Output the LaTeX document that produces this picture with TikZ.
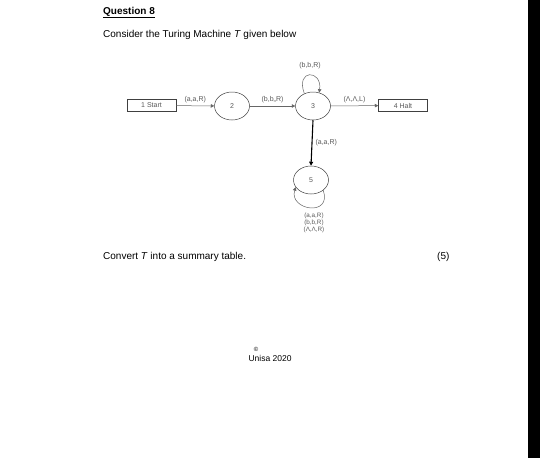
\documentclass[tikz,border=0pt]{standalone}
\usepackage{fontspec}
\setmainfont{Liberation Sans}
\usetikzlibrary{shapes.geometric,arrows.meta}
\begin{document}
\begin{tikzpicture}[x=1pt,y=-1pt,
  txt/.style={inner sep=0pt,anchor=base west,font=\fontsize{10}{12}\selectfont},
  lab/.style={inner sep=0pt,text=black!65,font=\fontsize{7}{8}\selectfont},
  state/.style={draw=black!75,ellipse,minimum width=35pt,minimum height=28pt,inner sep=0pt,line width=0.5pt,text=black!65,font=\fontsize{7}{8}\selectfont},
  termbox/.style={draw=black!75,rectangle,minimum width=49pt,minimum height=12pt,inner sep=0pt,line width=0.5pt,text=black!65,font=\fontsize{7}{8}\selectfont},
  edge/.style={draw=black!60,line width=0.5pt,-{Triangle[length=3.5pt,width=3.5pt]}},
  thick edge/.style={draw=black,line width=1.1pt,-{Triangle[length=4pt,width=4pt]}}
]
\useasboundingbox (0,0) rectangle (540,458);
\fill[white] (0,0) rectangle (540,458);
\fill[black] (528,0) rectangle (540,458);

\node[txt,font=\fontsize{10}{12}\selectfont\bfseries] (q) at (103,14) {\underline{Question 8}};
\node[txt] (c) at (103,37.5) {Consider the Turing Machine \textit{T} given below};

\node[termbox] (s1) at (151.5,105.5) {1 Start};
\node[state] (s2) at (232,106) {2};
\node[state] (s3) at (313,106) {3};
\node[termbox] (s4) at (403,105.5) {4 Halt};
\node[state] (s5) at (311,180) {5};

\draw[edge] (s1) -- node[lab,above=3pt] {(a,a,R)} (s2);
\draw[edge] (s2) -- node[lab,above=3pt] {(b,b,,R)} (s3);
\draw[edge] (s3) -- node[lab,above=3pt] {(Λ,Λ,L)} (s4);
\draw[thick edge] (s3.south) -- node[lab,right=3pt] {(a,a,R)} (s5.north);

\draw[edge] (s3.125) .. controls +(-9,-25) and +(3,-23) .. (s3.65);
\node[lab] (l3) at (310,66) {(b,b,R)};

\draw[edge] (s5.-40) .. controls +(9,27) and +(-7,23) .. (s5.205);
\node[lab,align=center,font=\fontsize{6.3}{7}\selectfont] (l5) at (314,223) {(a,a,R)\\(b,b,R)\\(Λ,Λ,R)};

\node[txt] (conv) at (103,259.5) {Convert \textit{T} into a summary table.};
\node[txt] (mark) at (437,259.5) {(5)};

\node[inner sep=0pt,font=\fontsize{6}{7}\selectfont] (copy) at (256,349) {©};
\node[inner sep=0pt,font=\fontsize{8.5}{10}\selectfont] (unisa) at (270,358) {Unisa 2020};
\end{tikzpicture}
\end{document}
